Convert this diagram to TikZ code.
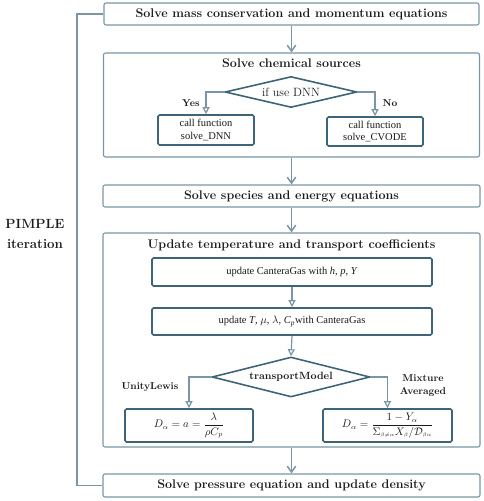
\documentclass[tikz,border=0pt]{standalone}
\usepackage{amsmath}
\usepackage{fontspec}
\newfontfamily\timesf{Liberation Serif}
\usetikzlibrary{arrows.meta,shapes.geometric}
\definecolor{outerc}{HTML}{7A96A6}
\definecolor{innerc}{HTML}{3D6478}
\definecolor{txtc}{HTML}{1A1A1A}
\tikzset{
  outerbox/.style={draw=outerc, line width=1.1pt, rounded corners=2pt, inner sep=0pt},
  innerbox/.style={draw=innerc, line width=1.6pt, rounded corners=1.5pt, inner sep=0pt, align=center, text=txtc, font=\timesf\fontsize{10.5}{12.5}\selectfont},
  decision/.style={diamond, draw=innerc, line width=1.6pt, inner sep=0pt, text=txtc},
  titletxt/.style={text=txtc, font=\bfseries\fontsize{12.5}{15}\selectfont},
  lbl/.style={text=txtc, font=\bfseries\fontsize{10}{13}\selectfont, align=center},
  mainarr/.style={draw=outerc, line width=1.5pt, -{Straight Barb[length=6pt,width=8.5pt,line width=1.5pt]}},
  subarr/.style={draw=outerc, line width=1.2pt, -{Triangle[open,length=7pt,width=7pt,line width=1.2pt]}},
  loopline/.style={draw=outerc, line width=1.5pt}
}
\begin{document}
\begin{tikzpicture}[x=1pt,y=-1pt]
\useasboundingbox (0,0) rectangle (483,501);
% main boxes
\node[outerbox, titletxt, minimum width=375pt, minimum height=22pt] (top) at (291.5,14) {Solve mass conservation and momentum equations};
\node[outerbox, minimum width=376pt, minimum height=104pt] (chem) at (291.5,105) {};
\node[titletxt] (chemt) at (291.5,63) {Solve chemical sources};
\node[decision, aspect=4.26, minimum width=132pt, minimum height=31pt, font=\fontsize{12}{14}\selectfont] (dnnq) at (291,92) {if use DNN};
\node[innerbox, minimum width=96pt, minimum height=30pt] (dnn) at (206,130) {call function\\solve\_DNN};
\node[innerbox, minimum width=96pt, minimum height=29pt] (cvode) at (375,131.5) {call function\\solve\_CVODE};
\node[lbl] (yes) at (191,103) {Yes};
\node[lbl] (no) at (390,103) {No};

\node[outerbox, titletxt, minimum width=377pt, minimum height=22pt] (spec) at (291.5,196) {Solve species and energy equations};

\node[outerbox, minimum width=377pt, minimum height=214pt] (upd) at (291.5,340) {};
\node[titletxt] (updt) at (291.5,245) {Update temperature and transport coefficients};
\node[innerbox, minimum width=280pt, minimum height=28pt] (b1) at (292,272) {update CanteraGas with \textit{h}, \textit{p}, \textit{Y}};
\node[innerbox, minimum width=280pt, minimum height=27pt] (b2) at (292,321.5) {update \textit{T}, $\mu$, $\lambda$, \textit{C}\textsubscript{\textit{p}}with CanteraGas};
\node[decision, aspect=3.95, minimum width=158pt, minimum height=40pt, font=\bfseries\fontsize{10.5}{13}\selectfont] (tm) at (291,377) {transportModel};
\node[innerbox, minimum width=128pt, minimum height=33pt] (ul) at (189,425.5) {$D_\alpha = a = \dfrac{\lambda}{\rho C_p}$};
\node[innerbox, minimum width=129pt, minimum height=33pt] (ma) at (387.5,425.5) {$D_\alpha = \dfrac{1-Y_\alpha}{\Sigma_{\scriptscriptstyle\beta\neq\alpha}X_{\scriptscriptstyle\beta}/\mathcal{D}_{\scriptscriptstyle\beta\alpha}}$};
\node[lbl] (ull) at (150,387) {UnityLewis};
\node[lbl] (mal) at (423,386) {Mixture\\Averaged};

\node[outerbox, titletxt, minimum width=377pt, minimum height=23pt] (pres) at (291.5,485.5) {Solve pressure equation and update density};

\node[text=txtc, font=\bfseries\fontsize{13.3}{20}\selectfont, align=center] (pimple) at (35,234) {PIMPLE\\iteration};

% connectors
\draw[mainarr] (top.south) -- (chem.north);
\draw[mainarr] (chem.south) -- (spec.north);
\draw[mainarr] (spec.south) -- (upd.north);
\draw[mainarr] (upd.south) -- (pres.north);
\draw[subarr] (dnnq.west) -| (dnn.north);
\draw[subarr] (dnnq.east) -| (cvode.north);
\draw[subarr] (b1.south) -- (b2.north);
\draw[subarr] (b2.south) -- (tm.north);
\draw[subarr] (tm.west) -| (ul.north);
\draw[subarr] (tm.east) -| (ma.north);
\coordinate (lp) at (77,250);
\draw[loopline] (top.west) -- (top.west -| lp) -- (pres.west -| lp) -- (pres.west);
\end{tikzpicture}
\end{document}
